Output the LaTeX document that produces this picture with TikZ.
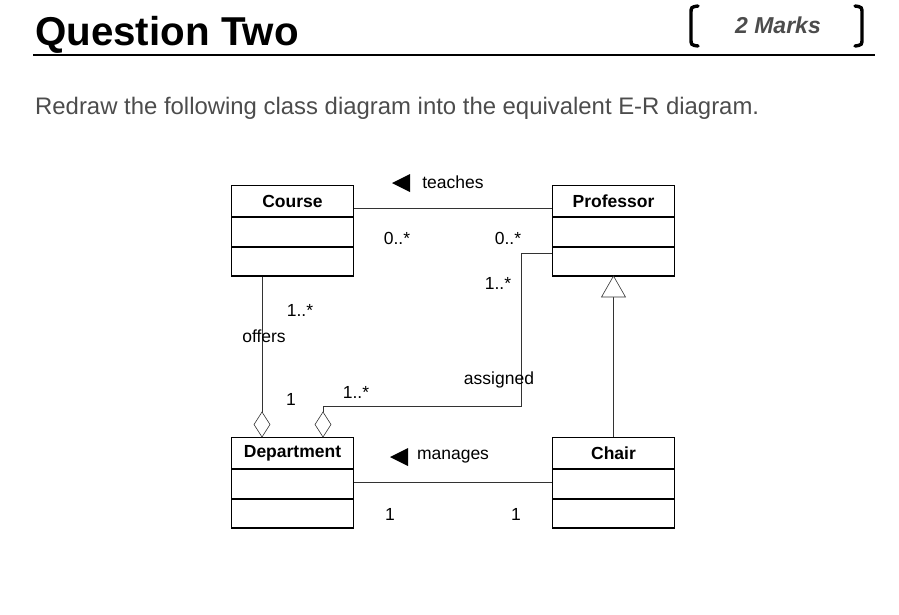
\documentclass[tikz,border=0pt]{standalone}
\usepackage{fontspec}
\setmainfont{Liberation Sans}
\begin{document}
\begin{tikzpicture}[x=1pt,y=-1pt,
  box/.style={draw,line width=1.2pt,minimum width=122pt,minimum height=31pt,inner sep=0pt,font=\fontsize{17.5}{20}\selectfont\bfseries},
  row/.style={draw,line width=1.2pt,minimum width=122pt,minimum height=28.5pt,inner sep=0pt},
  lbl/.style={font=\fontsize{17.5}{20}\selectfont,inner sep=0pt},
  ln/.style={line width=0.6pt,draw=black!80}]
\useasboundingbox (0,0) rectangle (899,614);
\node[anchor=base west,inner sep=0pt,font=\fontsize{40.3}{46}\selectfont\bfseries] (title) at (35,45) {Question Two};
\draw[line width=1.5pt] (33,55) coordinate (hl) -- (875,55) coordinate (hr);
\draw[line width=3.4pt,line cap=round] (698,6) .. controls (691,7) .. (691,14) -- (691,38) .. controls (691,45) .. (698,46);
\draw[line width=3.4pt,line cap=round] (855,6) .. controls (862,7) .. (862,14) -- (862,38) .. controls (862,45) .. (855,46);
\node[font=\fontsize{23}{26}\selectfont\bfseries\itshape,text=black!70,inner sep=0pt] (marks) at (778,25) {2 Marks};
\node[anchor=base west,inner sep=0pt,text=black!70,font=\fontsize{23.9}{27}\selectfont] (sub) at (35,114) {Redraw the following class diagram into the equivalent E-R diagram.};
% classes
\foreach \n/\t/\x/\y in {c/Course/292.5/201, p/Professor/613.5/201, d/Department/292.5/453, h/Chair/613.5/453}{
  \node[box] (\n) at (\x,\y) {\t};
  \node[row,anchor=north] (\n2) at (\n.south) {};
  \node[row,anchor=north] (\n3) at (\n2.south) {};
}
% teaches
\draw[ln] (c.east |- 0,208) coordinate (t1) -- (p.west |- 0,208) coordinate (t2);
\fill (392,183) coordinate (tt) -- (410,174) -- (410,192) -- cycle;
\node[lbl] (teach) at (453,182) {teaches};
\node[lbl] at (397,238) {0..*};
\node[lbl] at (508,238) {0..*};
% manages
\draw[ln] (d.east |- 0,482) coordinate (m1) -- (h.west |- 0,482) coordinate (m2);
\fill (390,457) coordinate (mt) -- (408,448) -- (408,466) -- cycle;
\node[lbl] (man) at (453,457) {manages};
\node[lbl] at (390,514) {1};
\node[lbl] at (516,514) {1};
% offers
\coordinate (od) at (262,413);
\draw[ln] (c3.south -| od) -- (od);
\draw[ln,fill=white] (262,412) -- (270,424.5) -- (262,437) -- (254,424.5) -- cycle;
\node[lbl] at (300,310) {1..*};
\node[lbl] at (264,336) {offers};
\node[lbl] at (291,399) {1};
% assigned
\draw[ln] (p2.west |- 0,253) -- (521,253) -- (521,406) -- (323,406) -- (323,412);
\draw[ln,fill=white] (323,412) -- (331,424.5) -- (323,437) -- (315,424.5) -- cycle;
\node[lbl] at (498,283) {1..*};
\node[lbl] at (499,380) {assigned};
\node[lbl] at (356,392) {1..*};
% inheritance
\draw[ln] (h.north) -- (613.5,297);
\draw[ln,fill=white] (613.5,276) -- (625.5,297) -- (601.5,297) -- cycle;
\end{tikzpicture}
\end{document}
